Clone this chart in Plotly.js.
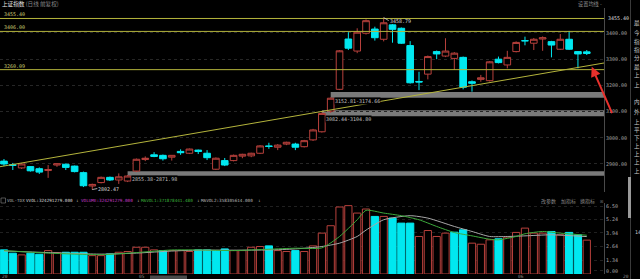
<!DOCTYPE html>
<html><head><meta charset="utf-8">
<script src="https://cdn.plot.ly/plotly-3.0.1.min.js"></script>
<style>html,body{margin:0;padding:0;background:#000;overflow:hidden}#chart{width:640px;height:279px}</style>
</head><body><div id="chart"></div>
<script>
// ---------------- DATA ----------------
const openP  = [2911,2897,2885,2890,2882,2875,2896,2899,2892,2867,2816,2829,2849,2839,2835,2873,2917,2935,2933,2926,2948,2941,2953,2941,2880,2913,2913,2930,2931,2941,2969,2964,2976,2976,2966,2992,3023,3102,3185,3377,3331,3399,3415,3376,3431,3418,3352,3215,3243,3329,3312,3303,3307,3214,3223,3218,3300,3278,3329,3371,3361,3377,3367,3338,3376,3329,3328];
const closeP = [2900,2895,2900,2874,2869,2879,2901,2887,2871,2817,2822,2849,2839,2851,2854,2918,2922,2929,2920,2933,2943,2957,2948,2924,2922,2896,2933,2937,2941,2969,2967,2972,2983,2964,2989,3030,3093,3151,3332,3342,3403,3447,3382,3439,3414,3361,3210,3213,3310,3320,3331,3323,3193,3208,3229,3290,3287,3307,3364,3370,3376,3382,3354,3376,3338,3320,3322];
const highP  = [2919,2904,2904,2892,2887,2896,2903,2902,2894,2871,2825,2852,2852,2864,2858,2921,2929,2945,2936,2934,2956,2959,2955,2953,2925,2923,2936,2939,2943,2972,2981,2976,2985,2981,2992,3034,3097,3154,3335,3403,3418,3452,3424,3458.79,3434,3421,3369,3252,3314,3333,3380,3327,3310,3219,3240,3293,3310,3332,3368,3386,3381,3387,3370,3396,3408,3331,3335];
const lowP   = [2892,2877,2881,2871,2862,2847,2889,2877,2868,2812,2802.47,2826,2835,2824,2831,2869,2911,2926,2913,2913,2935,2938,2938,2915,2877,2892,2910,2922,2926,2938,2958,2953,2972,2953,2963,2988,3020,3095,3182,3335,3323,3394,3371,3368,3363,3358,3207,3182,3223,3300,3308,3259,3185,3176,3214,3215,3284,3265,3326,3353,3335,3332,3307,3335,3335,3265,3316];
// volume in 亿 (1e8)
const volume = [2.31,1.99,1.83,1.99,1.89,2.24,2.05,2.08,2.08,2.08,1.76,1.76,1.92,2.08,2.15,2.56,2.56,2.31,2.24,2.24,2.24,2.15,2.31,2.31,2.24,2.40,2.24,2.24,2.56,2.63,2.69,2.24,2.15,2.24,2.15,2.69,3.91,4.62,6.41,6.54,5.83,6.22,5.51,5.51,5.35,4.87,4.87,3.59,4.16,3.59,3.91,4.00,4.23,2.95,2.85,3.27,3.37,3.53,3.98,4.39,3.91,3.91,4.07,3.75,3.98,3.75,3.24];
const ma5X  = [0,5,11,15,19,22,26,30,33,36,38,40,41,43,45,47,49,51,53,55,56,58,59,61,63,66];
const ma5   = [2.24,2.0,1.85,2.05,2.3,2.3,2.24,2.37,2.47,2.5,3.59,5.19,6.09,5.83,5.58,5.19,4.55,3.97,3.65,3.33,3.27,3.59,3.85,4.07,3.91,3.71];
const ma10X = [0,5,11,15,19,22,26,30,33,36,38,40,41,43,46,48,51,53,55,57,59,62,66];
const ma10  = [2.2,2.05,1.9,2.0,2.2,2.28,2.28,2.3,2.4,2.63,2.95,3.59,4.2,5.19,5.58,5.35,4.55,4.07,3.59,3.59,3.65,3.75,3.58];
const levels = [3455.40, 3406.00, 3260.09];
const bandStart = [37, 36, 14];
const bandLo = [3152.81, 3082.44, 2855.38];
const bandHi = [3174.66, 3104.80, 2871.98];
const trendX = [-0.45, 67.95];
const trendY = [2889.7, 3285.5];
const priceTicks = [2900,3000,3100,3200,3300,3400];
const volTicks = [0.3,1.34,2.64,3.94,5.24,6.50];
const volTickText = ['0.00','1.34','2.64','3.94','5.24','6.50'];
const volHeader = ['VVOL:324291279.000','VOLUME:324291279.000','MAVOL1:371878441.480','MAVOL2:358305614.000'];
const rightPanel = ['最','今','指','指','分','最','上','上','内','外','上','平','下','上','上','上','上'];

// ---------------- STYLE ----------------
const W = 604, H = 279;
const RED = '#b8403c', CYAN = '#00e8f0', YEL = '#b4b43c';
const mono = 'DejaVu Sans Mono, Liberation Mono, monospace';
const cjk = 'Noto Sans CJK SC, sans-serif';
const xRange = [-0.45, 67.95];
const idx = openP.map((_, i) => i);
const py = p => (H - p) / H;
const pxx = p => p / W;

const volUp = closeP.map((c, i) => i === 0 ? c >= openP[0] : c >= closeP[i - 1]);

const traces = [
  {type:'candlestick', x:idx, open:openP, high:highP, low:lowP, close:closeP,
   xaxis:'x', yaxis:'y', whiskerwidth:0, hoverinfo:'skip',
   increasing:{line:{color:RED, width:1}, fillcolor:'#000'},
   decreasing:{line:{color:CYAN, width:1}, fillcolor:CYAN}},
  {type:'scatter', mode:'lines', x:trendX, y:trendY, xaxis:'x', yaxis:'y',
   line:{color:YEL, width:1}, hoverinfo:'skip'},
  {type:'bar', x:idx, y:volume, xaxis:'x', yaxis:'y2', hoverinfo:'skip',
   marker:{color:volUp.map(u => u ? '#000' : CYAN), line:{color:volUp.map(u => u ? RED : CYAN), width:1}}},
  {type:'scatter', mode:'lines', x:ma10X, y:ma10, xaxis:'x', yaxis:'y2',
   line:{color:'#a8a8a8', width:1, shape:'spline', smoothing:0.6}, hoverinfo:'skip'},
  {type:'scatter', mode:'lines', x:ma5X, y:ma5, xaxis:'x', yaxis:'y2',
   line:{color:'#3caa3c', width:1, shape:'spline', smoothing:0.6}, hoverinfo:'skip'}
];

const shapes = [];
levels.forEach(v => shapes.push({type:'line', xref:'paper', yref:'y', x0:0, x1:1, y0:v, y1:v, line:{color:YEL, width:1}}));
bandLo.forEach((lo, i) => shapes.push({type:'rect', xref:'x', yref:'y', x0:bandStart[i], x1:xRange[1], y0:lo, y1:bandHi[i], fillcolor:'#7a7a7a', line:{width:0}, layer:'below'}));
shapes.push({type:'line', xref:'paper', yref:'paper', x0:pxx(630.5), x1:pxx(630.5), y0:0, y1:1, line:{color:'#3a3a3a', width:1}});
shapes.push({type:'rect', xref:'paper', yref:'paper', x0:pxx(628), x1:pxx(631), y0:py(218), y1:py(177), fillcolor:'#9a9a9a', line:{width:0}});
shapes.push({type:'rect', xref:'paper', yref:'paper', x0:pxx(1), x1:pxx(5.5), y0:py(203), y1:py(198), line:{color:'#888', width:0.6}});
shapes.push({type:'rect', xref:'paper', yref:'paper', x0:pxx(150), x1:pxx(187), y0:py(279), y1:py(275.5), fillcolor:'#4a4a4a', line:{width:0}});

const ann = [];
function txt(x, y, text, color, size, font, anchor) {
  ann.push({xref:'paper', yref:'paper', x:pxx(x), y:py(y), text, showarrow:false,
    xanchor:anchor || 'left', yanchor:'middle', borderpad:0,
    font:{family:font || mono, size:size || 5, color}});
}
txt(1, 4.5, '<span style="color:#e8e8e8">上证指数</span> <span style="color:#8a8a8a">(日线 前复权)</span>', '#e8e8e8', 5.6, cjk);
txt(577, 4.5, '设置均线 -', '#8a8a8a', 5.2, cjk);
levels.forEach(v => ann.push({xref:'paper', yref:'y', x:pxx(3), y:v, yshift:4, text:v.toFixed(2), showarrow:false,
  xanchor:'left', yanchor:'middle', borderpad:0, font:{family:mono, size:5, color:'#c8c870'}}));
ann.push({xref:'paper', yref:'y', x:1 + pxx(3), y:levels[0], text:levels[0].toFixed(2), showarrow:false,
  xanchor:'left', yanchor:'middle', borderpad:0, font:{family:mono, size:5, color:'#d8d8d8'}});
// high / low marks
const hiI = highP.indexOf(Math.max(...highP)), loI = lowP.indexOf(Math.min(...lowP));
ann.push({xref:'x', yref:'y', x:hiI, y:highP[hiI], text:highP[hiI].toFixed(2), showarrow:true, ax:5, ay:3,
  arrowhead:0, arrowwidth:0.8, arrowcolor:'#d0d0d0', xanchor:'left', yanchor:'middle', borderpad:0,
  font:{family:mono, size:5, color:'#d8d8d8'}});
ann.push({xref:'x', yref:'y', x:loI, y:lowP[loI], text:lowP[loI].toFixed(2), showarrow:true, ax:5, ay:-1,
  arrowhead:0, arrowwidth:0.8, arrowcolor:'#d0d0d0', xanchor:'left', yanchor:'middle', borderpad:0,
  font:{family:mono, size:5, color:'#d8d8d8'}});
// band labels
bandLo.forEach((lo, i) => ann.push({xref:'x', yref:'y', x:bandStart[i], y:lo, xshift:3, yshift:-3,
  text:lo.toFixed(2) + '-' + bandHi[i].toFixed(2), showarrow:false, xanchor:'left', yanchor:'middle',
  bgcolor:'#000', borderpad:0, font:{family:mono, size:5, color:'#c0c0c0'}}));
// red arrow
ann.push({xref:'x', yref:'y', x:66.56, y:3271.4, ax:21, ay:48, text:'', showarrow:true,
  arrowhead:2, arrowsize:1, arrowwidth:2, arrowcolor:'#e8302c'});
// volume header
txt(6, 200.5, 'VOL-TDX', '#b0b0b0', 4.2);
const hdrX = [25, 80, 140, 200], hdrC = ['#d8d8d8', '#c83cc8', '#3cb43c', '#b8b8b8'], arrX = [74.5, 135.5, 195.5, 256.5];
volHeader.forEach((t, i) => { txt(hdrX[i], 200.5, t, hdrC[i], 4.3); txt(arrX[i], 200.5, '↓', '#b0b0b0', 4.5); });
txt(540, 201, '改参数', '#8a8a8a', 5, cjk);
txt(560, 201, '加指标', '#8a8a8a', 5, cjk);
txt(579, 201, '换指标', '#8a8a8a', 5, cjk);
txt(599, 201, '☒', '#8a8a8a', 5.5);
// right info column
const rpY = [23,33,42,50,58,67,75,85,102,112,122,130,138,146,154,162,171];
rightPanel.forEach((c, i) => txt(637, rpY[i], c, '#c8c8c8', 5.6, cjk, 'center'));
txt(634, 232, '14', '#c8c8c8', 5);
// bottom date fragments
txt(1, 276, '20', '#8a8a8a', 4.5);
txt(138, 276, '05', '#8a8a8a', 4.5);
txt(517, 276, '06', '#8a8a8a', 4.5);
txt(622, 276, '20', '#8a8a8a', 4.5);

const layout = {
  width:640, height:279, margin:{l:0, r:36, t:0, b:0},
  paper_bgcolor:'#000', plot_bgcolor:'#000', showlegend:false, hovermode:false,
  boxgap:0.25, boxgroupgap:0, bargap:0.18,
  font:{family:mono, color:'#a8a8a8'},
  xaxis:{range:xRange, domain:[0,1], showticklabels:false, showgrid:false, zeroline:false, showline:false,
         rangeslider:{visible:false}, fixedrange:true},
  yaxis:{domain:[py(192), py(8)], range:[2793.1, 3495.4], side:'right', anchor:'x',
         tickvals:priceTicks, ticktext:priceTicks.map(v => v.toFixed(2)), ticks:'',
         tickfont:{family:mono, size:5, color:'#a8a8a8'},
         showgrid:true, gridcolor:'#262626', griddash:'dot', gridwidth:1, zeroline:false,
         showline:true, linecolor:'#4a4a4a', linewidth:1, fixedrange:true},
  yaxis2:{domain:[py(274), py(203)], range:[0, 6.794], side:'right', anchor:'x',
          tickvals:volTicks, ticktext:volTickText, ticks:'',
          tickfont:{family:mono, size:5, color:'#a8a8a8'},
          showgrid:true, gridcolor:'#202020', griddash:'dot', zeroline:false,
          showline:true, linecolor:'#4a4a4a', linewidth:1, fixedrange:true},
  shapes, annotations:ann
};
Plotly.newPlot('chart', traces, layout, {staticPlot:true, displayModeBar:false});
</script></body></html>
